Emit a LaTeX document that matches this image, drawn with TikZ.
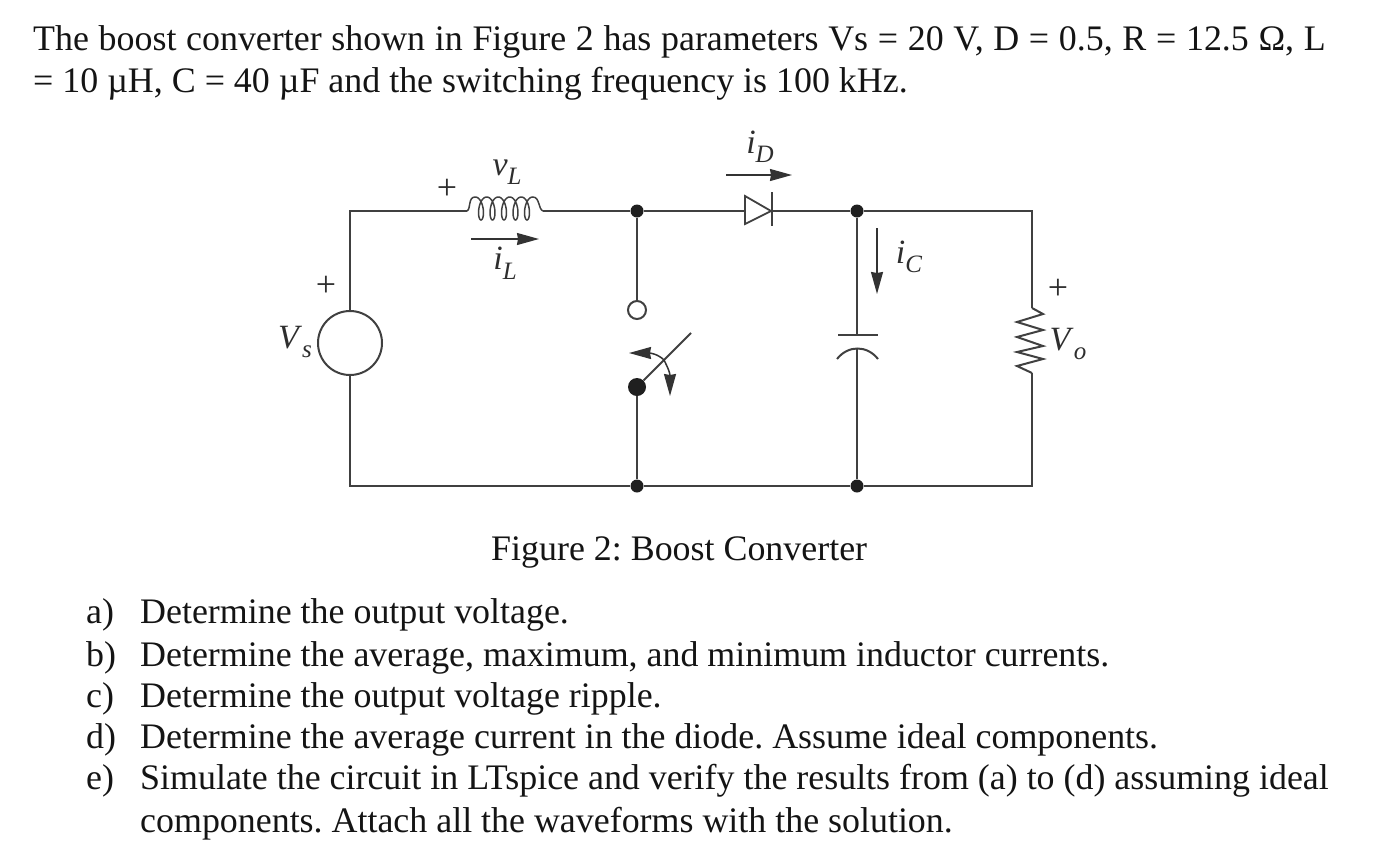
\documentclass[tikz,border=0pt]{standalone}
\usepackage{fontspec}
\setmainfont{Liberation Serif}
\usetikzlibrary{arrows.meta}

\frenchspacing
\newcommand{\symb}[2]{\fontsize{34}{38}\selectfont\textit{#1}\raisebox{-0.28em}{\fontsize{25}{25}\selectfont\textit{#2}}}

\begin{document}
\begin{tikzpicture}[x = 1pt, y = -1pt, font=\fontsize{35.9}{40}\selectfont]
	\tikzstyle{textStyle} = [anchor = base west, inner sep = 0pt, text = black!92]
	\tikzstyle{labelStyle} = [inner sep = 0pt, text = black!82]
	\tikzstyle{wireStyle} = [draw = black!75, line width = 2pt]
	\tikzstyle{arrowStyle} = [draw = black!80, line width = 1.5pt, -{Stealth[length = 22pt, width = 12pt, inset = 1pt]}]
	\tikzstyle{dotStyle} = [shape = circle, minimum size = 13pt, inner sep = 0pt, fill = black!88]
	\tikzstyle{bigDotStyle} = [shape = circle, minimum size = 18pt, inner sep = 0pt, fill = black!88]
	\tikzstyle{openStyle} = [shape = circle, minimum size = 18pt, inner sep = 0pt, draw = black!75, line width = 2pt]
	\tikzstyle{sourceStyle} = [shape = circle, minimum size = 64pt, inner sep = 0pt, draw = black!75, line width = 2pt]
	\useasboundingbox (0, 0) rectangle (1389, 865);
	% problem text
	\node[textStyle] (t1) at (33, 50) {\spaceskip=0.27em The boost converter shown in Figure 2 has parameters Vs = 20 V, D = 0.5, R = 12.5 Ω, L};
	\node[textStyle] (t2) at (33, 92) {= 10 µH, C = 40 µF and the switching frequency is 100 kHz.};
	\node[textStyle] (cap) at (491, 560) {Figure 2: Boost Converter};
	\node[textStyle] (la) at (86, 623) {a)};
	\node[textStyle] (ta) at (140, 623) {Determine the output voltage.};
	\node[textStyle] (lb) at (86, 666) {b)};
	\node[textStyle] (tb) at (140, 666) {Determine the average, maximum, and minimum inductor currents.};
	\node[textStyle] (lc) at (86, 707) {c)};
	\node[textStyle] (tc) at (140, 707) {Determine the output voltage ripple.};
	\node[textStyle] (ld) at (86, 748) {d)};
	\node[textStyle] (td) at (140, 748) {Determine the average current in the diode. Assume ideal components.};
	\node[textStyle] (le) at (86, 789) {e)};
	\node[textStyle] (te) at (140, 789) {Simulate the circuit in LTspice and verify the results from (a) to (d) assuming ideal};
	\node[textStyle] (tf) at (140, 832) {components. Attach all the waveforms with the solution.};
	% corners and terminals
	\coordinate (tl) at (350, 211);
	\coordinate (bl) at (350, 486);
	\coordinate (tr) at (1032, 211);
	\coordinate (br) at (1032, 486);
	\coordinate (lin) at (467, 211);
	\coordinate (lout) at (543, 211);
	\coordinate (da) at (745, 211);
	\coordinate (dk) at (772, 211);
	\coordinate (cp) at (857, 335);
	\coordinate (cn) at (857, 348);
	\coordinate (rp) at (1032, 308);
	\coordinate (rn) at (1032, 373);
	\coordinate (blade) at (691, 333);
	\coordinate (pivot) at (664, 360);
	% parts
	\node[sourceStyle] (vs) at (350, 343) {};
	\node[dotStyle] (n1) at (637, 211) {};
	\node[dotStyle] (n2) at (857, 211) {};
	\node[dotStyle] (n3) at (637, 486) {};
	\node[dotStyle] (n4) at (857, 486) {};
	\node[openStyle] (sw1) at (637, 310) {};
	\node[bigDotStyle] (sw2) at (637, 387) {};
	% wires
	\draw[wireStyle] (vs.north) -- (tl) -- (lin);
	\draw[wireStyle] (lout) -- (n1) -- (da);
	\draw[wireStyle] (dk) -- (n2) -- (tr) -- (rp);
	\draw[wireStyle] (rn) -- (br) -- (n4) -- (n3) -- (bl) -- (vs.south);
	\draw[wireStyle] (n1) -- (sw1);
	\draw[wireStyle] (sw2) -- (n3);
	\draw[wireStyle] (n2) -- (cp);
	\draw[wireStyle] (cn) -- (n4);
	% inductor
	\draw[draw = black!75, line width = 1.5pt] (lin) .. controls (471, 209) and (468, 197) .. (475, 197)
		-- plot[domain = -180:1620, samples = 240, smooth] ({481 + \x/360*11.5 - 5*sin(\x)}, {208.5 + 11.5*cos(\x)})
		.. controls (540, 197) and (538, 209) .. (lout);
	% diode
	\draw[wireStyle, line width = 1.8pt] (745, 196) -- (771, 211) -- (745, 224) -- cycle;
	\draw[wireStyle, line width = 1.8pt] (772, 192) -- (772, 226);
	% capacitor
	\draw[wireStyle] (838, 335) -- (878, 335);
	\draw[wireStyle] (837, 359) .. controls (848, 345) and (867, 345) .. (878, 359);
	% resistor
	\draw[wireStyle] (rp) -- (1043, 314) -- (1017, 322) -- (1043, 330) -- (1017, 337)
		-- (1043, 346) -- (1017, 352) -- (1043, 359) -- (1017, 366) -- (rn);
	% switch
	\draw[wireStyle, line width = 1.8pt] (sw2) -- (blade);
	\draw[arrowStyle] (pivot) .. controls (658, 354) and (650, 353) .. (629, 353);
	\draw[arrowStyle] (pivot) .. controls (668, 368) and (670, 373) .. (670, 396);
	% current arrows
	\coordinate (ils) at (471, 239);
	\coordinate (ile) at (539, 239);
	\coordinate (ids) at (726, 175);
	\coordinate (ide) at (792, 175);
	\coordinate (ics) at (877, 228);
	\coordinate (ice) at (877, 294);
	\draw[arrowStyle] (ils) -- (ile);
	\draw[arrowStyle] (ids) -- (ide);
	\draw[arrowStyle] (ics) -- (ice);
	% labels
	\node[labelStyle] (p1) at (447, 189) {+};
	\node[labelStyle] (p2) at (326, 286) {+};
	\node[labelStyle] (p3) at (1058, 289) {+};
	\node[labelStyle] (lvl) at (507, 172) {\symb{v}{L}};
	\node[labelStyle] (lil) at (505, 263) {\symb{i}{L}};
	\node[labelStyle] (lid) at (760, 147) {\symb{i}{D}};
	\node[labelStyle] (lic) at (909, 257) {\symb{i}{C}};
	\node[labelStyle] (lvs) at (295, 342) {\symb{V}{s}};
	\node[labelStyle] (lvo) at (1068, 344) {\symb{V}{o}};
\end{tikzpicture}
\end{document}
